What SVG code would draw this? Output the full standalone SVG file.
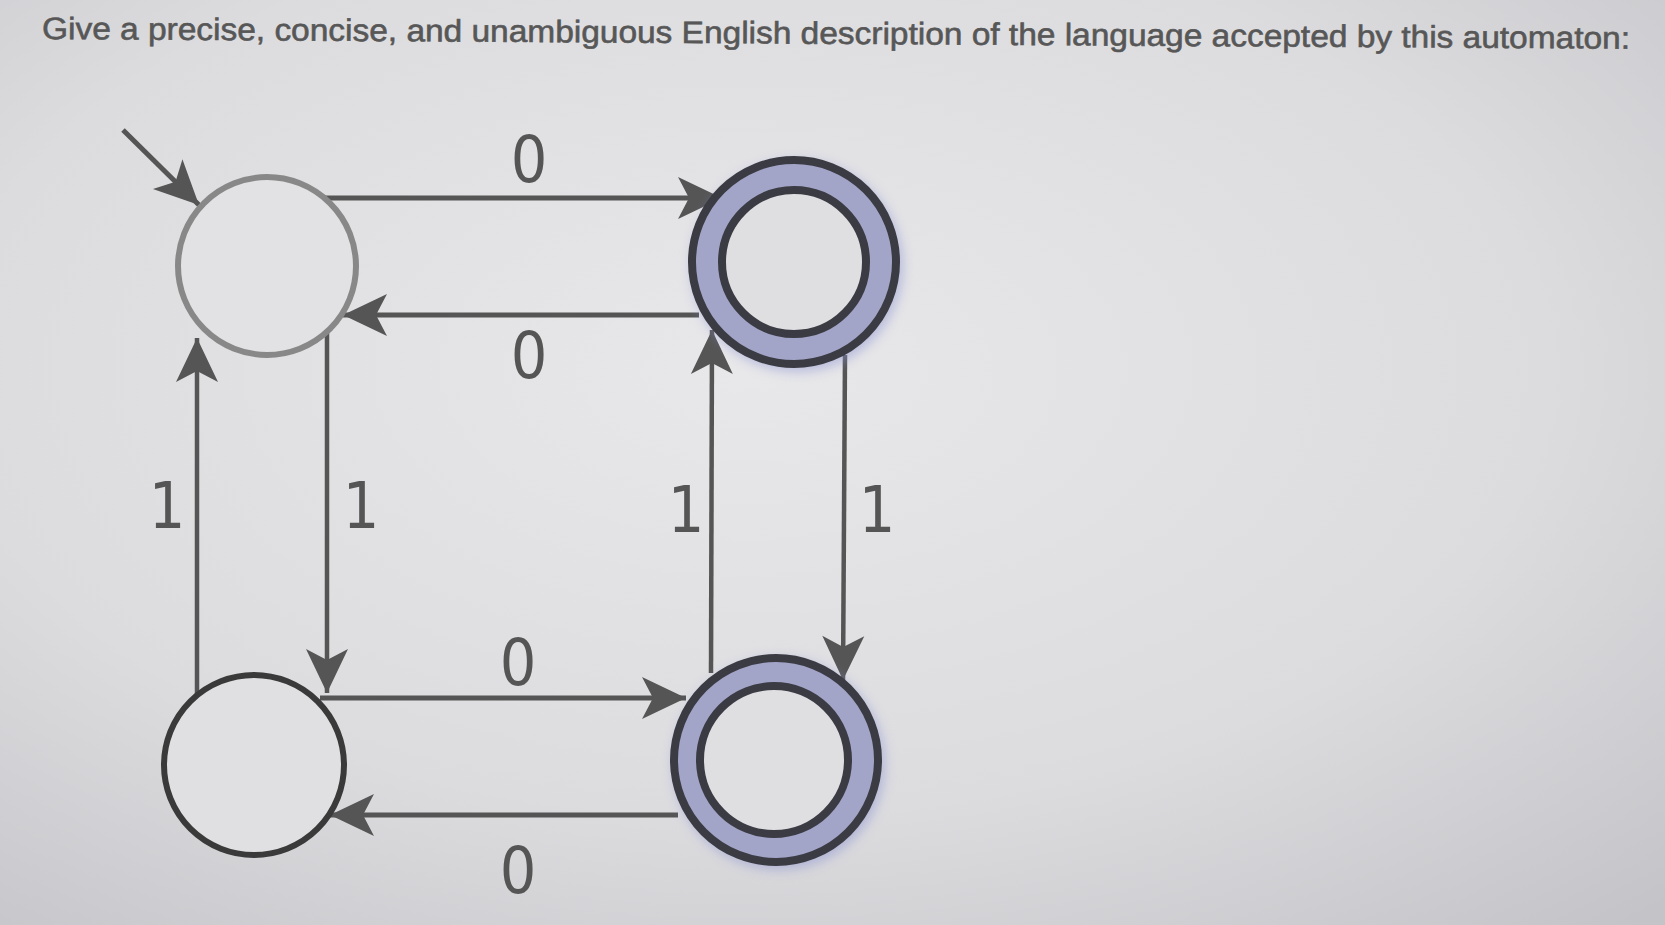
<svg xmlns="http://www.w3.org/2000/svg" width="1665" height="925" viewBox="0 0 1665 925">
<defs>
<radialGradient id="bg" cx="0.45" cy="0.4" r="0.8">
<stop offset="0" stop-color="#e8e8ea"/>
<stop offset="0.6" stop-color="#dcdcdf"/>
<stop offset="1" stop-color="#c4c4c8"/>
</radialGradient>
<marker id="ah" markerUnits="userSpaceOnUse" markerWidth="50" markerHeight="50" viewBox="-46 -25 50 50" refX="0" refY="0" orient="auto">
<path d="M0,0 L-44,-21 L-33,0 L-44,21 Z" fill="#555"/>
</marker>
<filter id="glow" x="-30%" y="-30%" width="160%" height="160%">
<feGaussianBlur stdDeviation="6"/>
</filter>
<style>
.lbl{font-family:"DejaVu Sans Condensed","DejaVu Sans",sans-serif;font-size:64px;fill:#555;text-anchor:middle}
.edge{stroke:#555;stroke-width:5;fill:none;marker-end:url(#ah)}
.v{stroke-width:4.5}
.ring{fill:#a3a5c8;stroke:#3b3b44;stroke-width:8}
.inner{fill:#dfdfe2;stroke:#3b3b44;stroke-width:8}
</style>
</defs>
<rect width="1665" height="925" fill="url(#bg)"/>
<text x="42" y="39" font-family="Liberation Sans, Arial, sans-serif" font-size="31" fill="#575757" stroke="#575757" stroke-width="0.6" textLength="1588" lengthAdjust="spacingAndGlyphs" transform="rotate(0.35 42 39)">Give a precise, concise, and unambiguous English description of the language accepted by this automaton:</text>
<g id="connectors">
<line class="edge" x1="123" y1="130" x2="199" y2="205"/>
<line class="edge" x1="325" y1="198" x2="722" y2="198"/>
<line class="edge" x1="699" y1="315" x2="343" y2="315"/>
<line class="edge v" x1="197" y1="697" x2="197" y2="338"/>
<line class="edge v" x1="327" y1="330" x2="327" y2="693"/>
<line class="edge v" x1="711" y1="673" x2="712" y2="330"/>
<line class="edge v" x1="845" y1="355" x2="843" y2="680"/>
<line class="edge" x1="320" y1="698" x2="686" y2="698"/>
<line class="edge" x1="678" y1="815" x2="330" y2="815"/>
<text class="lbl" x="529" y="182">0</text>
<text class="lbl" x="529" y="378">0</text>
<text class="lbl" x="518" y="685">0</text>
<text class="lbl" x="518" y="893">0</text>
<text class="lbl" x="167" y="528">1</text>
<text class="lbl" x="361" y="528">1</text>
<text class="lbl" x="686" y="532">1</text>
<text class="lbl" x="877" y="532">1</text>
</g>
<g id="q0">
<circle cx="267" cy="266" r="89" fill="#e2e2e4" stroke="#888" stroke-width="6"/>
</g>
<g id="q1">
<circle cx="797" cy="266" r="106" fill="#8a90d0" opacity="0.5" filter="url(#glow)"/>
<circle class="ring" cx="794" cy="262" r="102"/>
<circle class="inner" cx="794" cy="262" r="72"/>
</g>
<g id="q2">
<circle cx="254" cy="765" r="90" fill="#e0e0e2" stroke="#3a3a3a" stroke-width="6"/>
</g>
<g id="q3">
<circle cx="779" cy="764" r="106" fill="#8a90d0" opacity="0.5" filter="url(#glow)"/>
<circle class="ring" cx="776" cy="760" r="102"/>
<circle class="inner" cx="774" cy="760" r="74"/>
</g>
</svg>
